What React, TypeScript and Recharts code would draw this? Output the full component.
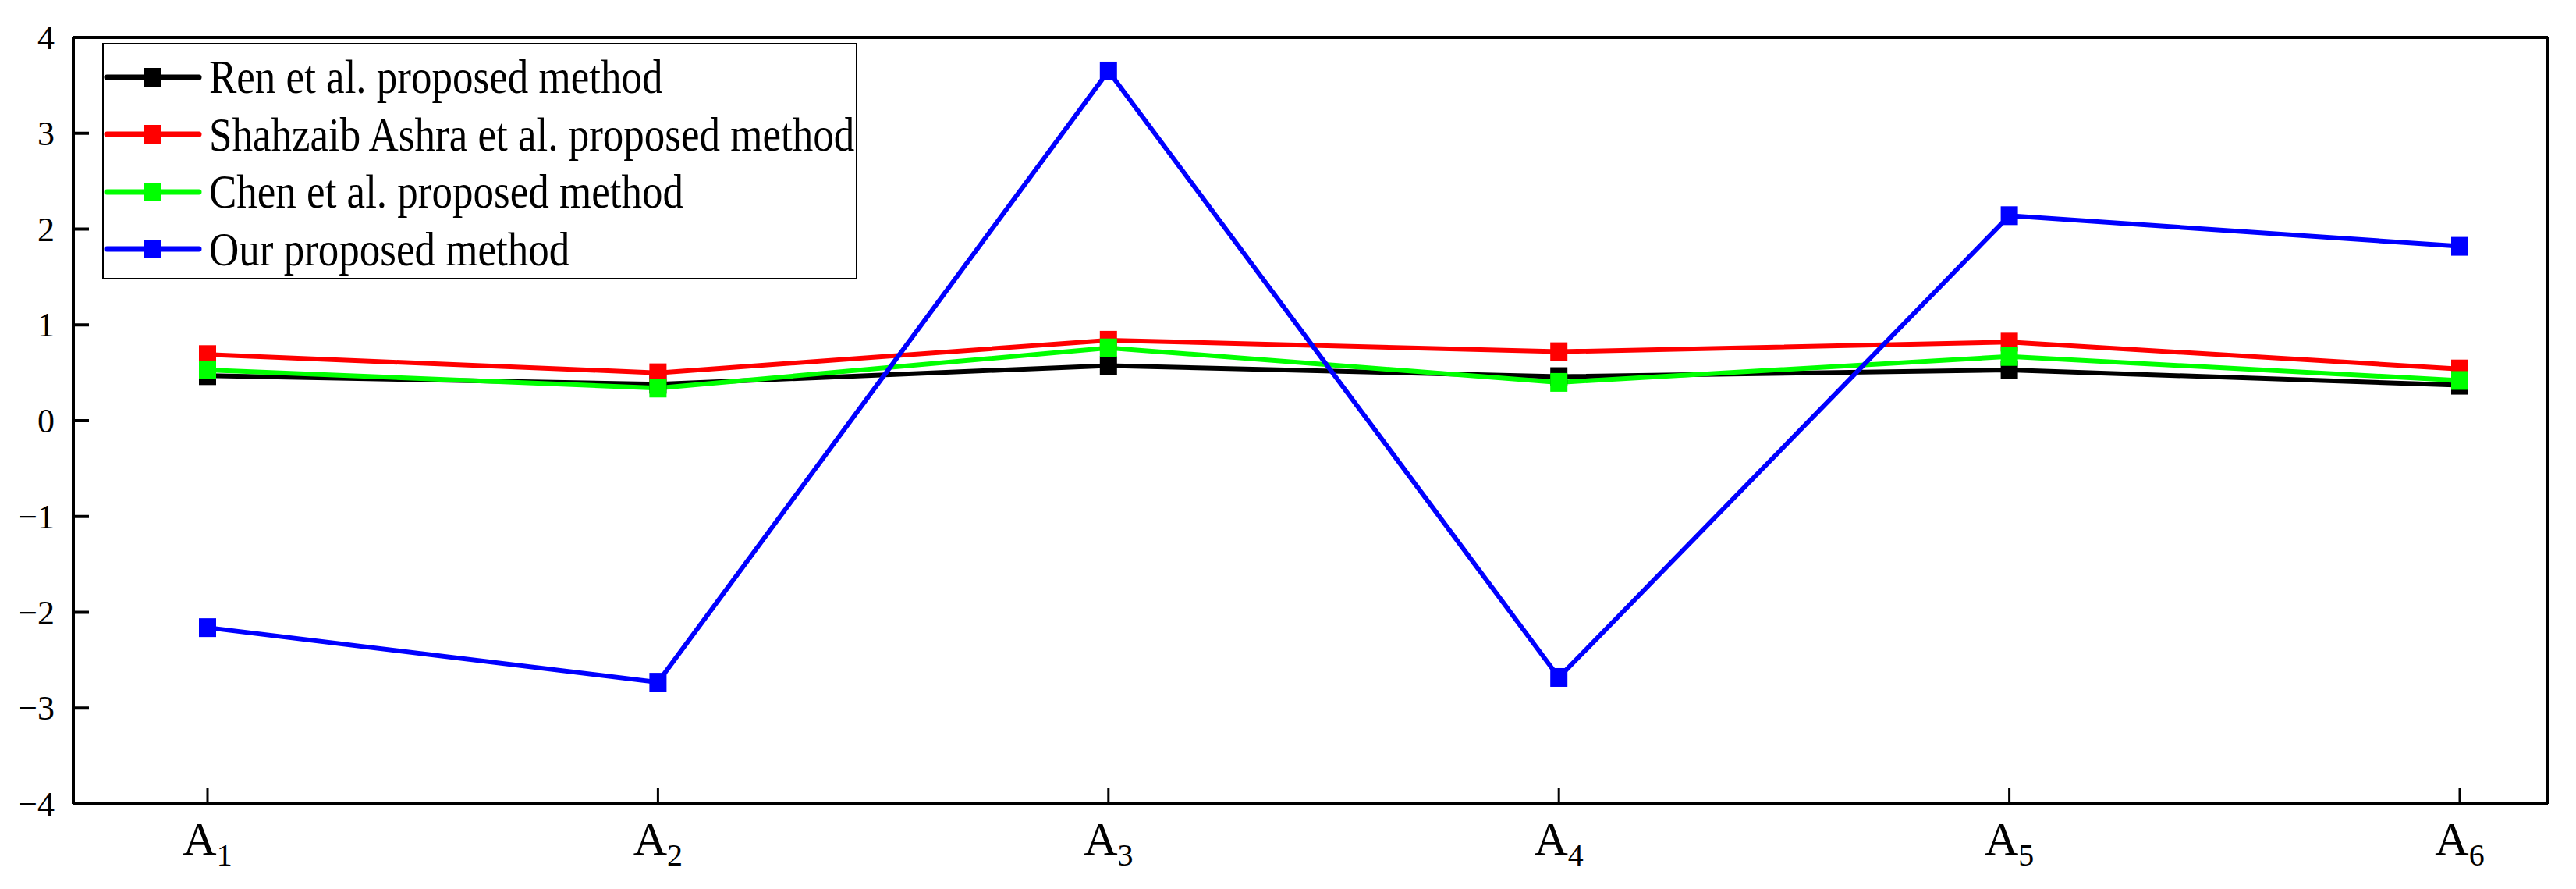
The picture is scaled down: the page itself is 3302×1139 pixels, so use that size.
import React from "react";
import { LineChart, Line, XAxis, YAxis, Legend } from "recharts";

const categories = ["A1", "A2", "A3", "A4", "A5", "A6"];
const ren = [0.47, 0.38, 0.575, 0.46, 0.53, 0.37];
const shahzaib = [0.69, 0.5, 0.84, 0.72, 0.82, 0.54];
const chen = [0.53, 0.34, 0.76, 0.4, 0.67, 0.42];
const ours = [-2.16, -2.73, 3.65, -2.68, 2.14, 1.82];
const yTicks = [-4, -3, -2, -1, 0, 1, 2, 3, 4];

const SERIES = [
  { key: "ren", name: "Ren et al. proposed method", color: "#000000" },
  { key: "shahzaib", name: "Shahzaib Ashra et al. proposed method", color: "#ff0000" },
  { key: "chen", name: "Chen et al. proposed method", color: "#00ff00" },
  { key: "ours", name: "Our proposed method", color: "#0000ff" },
];

const data = categories.map((c, i) => ({
  cat: c,
  ren: ren[i],
  shahzaib: shahzaib[i],
  chen: chen[i],
  ours: ours[i],
}));

const FONT = '"Liberation Serif", "Times New Roman", serif';
const TICK_LEN = 20;
const X_GAP = 25;
const Y_GAP = 24;

// square-ish marker like the Origin export
const squareDot = (color: string, id: string) => (p: any) => (
  <rect key={`${id}-${p.index}`} x={p.cx - 11} y={p.cy - 12} width={22} height={24} fill={color} />
);

// inward tick + "A" with subscript index
const XTick = ({ x, y, payload }: any) => {
  const v = String(payload.value);
  const axisY = y - X_GAP;
  return (
    <g>
      <line x1={x} x2={x} y1={axisY} y2={axisY - TICK_LEN} stroke="#000" strokeWidth={3} />
      <text x={x} y={y} textAnchor="middle" fontFamily={FONT} fill="#000">
        <tspan fontSize={60} dy={40}>{v.slice(0, 1)}</tspan>
        <tspan fontSize={40} dy={14}>{v.slice(1)}</tspan>
      </text>
    </g>
  );
};

const YTick = ({ x, y, payload }: any) => {
  const v = Number(payload.value);
  const axisX = x + Y_GAP;
  return (
    <g>
      <line x1={axisX} x2={axisX + TICK_LEN} y1={y} y2={y} stroke="#000" strokeWidth={4} />
      <text x={x} y={y} dy={15} textAnchor="end" fontFamily={FONT} fontSize={44} fill="#000">
        {v < 0 ? "\u2212" + Math.abs(v) : String(v)}
      </text>
    </g>
  );
};

const LegendBox = () => (
  <div
    style={{
      width: 968,
      height: 303,
      boxSizing: "border-box",
      border: "2px solid #000",
      background: "#fff",
      paddingTop: 5,
      fontFamily: FONT,
    }}
  >
    {SERIES.map((s) => (
      <div key={s.key} style={{ display: "flex", alignItems: "center", height: 73.5 }}>
        <svg width={126} height={30} style={{ flex: "none" }}>
          <line x1={4} y1={15} x2={56} y2={15} stroke={s.color} strokeWidth={7} strokeLinecap="round" />
          <line x1={70} y1={15} x2={122} y2={15} stroke={s.color} strokeWidth={7} strokeLinecap="round" />
          <rect x={52} y={3} width={22} height={24} fill={s.color} />
        </svg>
        <span
          style={{
            marginLeft: 9,
            fontSize: 53,
            lineHeight: 1,
            color: "#000",
            display: "inline-block",
            transform: "scaleY(1.15)",
            whiteSpace: "nowrap",
          }}
        >
          {s.name}
        </span>
      </div>
    ))}
  </div>
);

export default function App() {
  return (
    <div style={{ position: "absolute", left: 0, top: 0, width: 3302, height: 1139, background: "#fff", fontFamily: FONT }}>
      <LineChart width={3302} height={1139} data={data} margin={{ top: 46, right: 34, bottom: 0, left: 0 }}>
        <XAxis
          dataKey="cat"
          type="category"
          padding={{ left: 172, right: 113 }}
          height={109}
          axisLine={{ stroke: "#000", strokeWidth: 4 }}
          tickLine={false}
          tickSize={0}
          tickMargin={X_GAP}
          tick={<XTick />}
          interval={0}
        />
        <XAxis
          xAxisId="top"
          dataKey="cat"
          orientation="top"
          height={2}
          tick={false}
          tickLine={false}
          axisLine={{ stroke: "#000", strokeWidth: 4 }}
        />
        <YAxis
          type="number"
          domain={[-4, 4]}
          ticks={yTicks}
          width={94}
          axisLine={{ stroke: "#000", strokeWidth: 4 }}
          tickLine={false}
          tickSize={0}
          tickMargin={Y_GAP}
          tick={<YTick />}
          interval={0}
        />
        <YAxis
          yAxisId="right"
          orientation="right"
          width={2}
          domain={[-4, 4]}
          tick={false}
          tickLine={false}
          axisLine={{ stroke: "#000", strokeWidth: 4 }}
        />
        <Legend
          layout="vertical"
          align="center"
          verticalAlign="middle"
          content={<LegendBox />}
          wrapperStyle={{ position: "absolute", left: 131, top: 55, width: 968, height: 303 }}
        />
        {SERIES.map((s) => (
          <Line
            key={s.key}
            type="linear"
            dataKey={s.key}
            name={s.name}
            stroke={s.color}
            strokeWidth={6}
            dot={squareDot(s.color, s.key)}
            activeDot={false}
            isAnimationActive={false}
          />
        ))}
      </LineChart>
    </div>
  );
}
